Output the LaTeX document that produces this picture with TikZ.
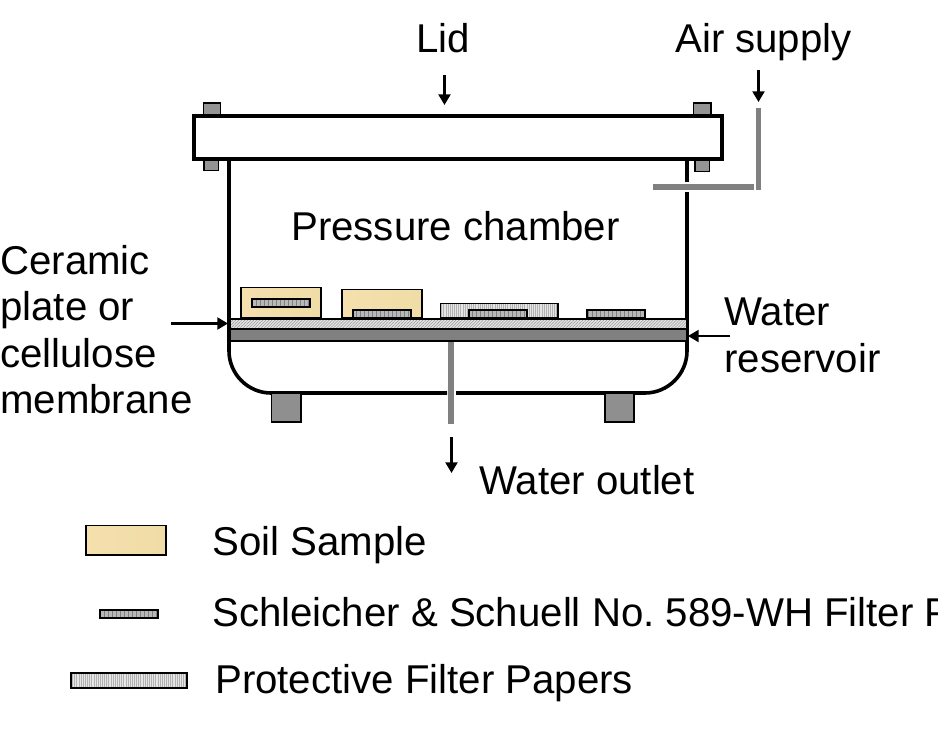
\documentclass[tikz,border=0pt]{standalone}
\usepackage{fontspec}
\setmainfont{Liberation Sans}
\usetikzlibrary{patterns.meta,arrows.meta,calc}
\newcommand\boxnode[6]{\node[#1,minimum width={(#5-#3)*0.75pt},minimum height={(#6-#4)*0.75pt}] (#2) at ({(#3+#5)/2},{(#4+#6)/2}) {};}
\tikzset{
  basebox/.style={draw=black,inner sep=0pt,outer sep=0pt,rectangle},
  lidbox/.style={basebox,line width=3pt,fill=white},
  bolt/.style={basebox,line width=1.1pt,fill=black!42},
  legbox/.style={basebox,line width=1.3pt,fill=black!44},
  soil/.style={basebox,line width=1.4pt,left color=soilA,right color=soilB},
  filterpaper/.style={basebox,line width=1.5pt,preaction={fill=black!28},pattern={Lines[angle=90,distance=3pt,line width=0.7pt]},pattern color=black!50},
  protective/.style={basebox,line width=1.4pt,preaction={fill=black!10},pattern={Lines[angle=90,distance=1.6pt,line width=0.5pt]},pattern color=black!30},
  plate/.style={draw=none,inner sep=0pt,outer sep=0pt,rectangle,preaction={fill=black!10},pattern={Lines[angle=45,distance=1.6pt,line width=0.4pt]},pattern color=black!40},
  reservoir/.style={draw=none,inner sep=0pt,outer sep=0pt,rectangle,fill=black!50},
  wall/.style={line width=2.7pt,draw=black},
  tube/.style={draw=black!50,line width=3.9pt},
  pointer/.style={line width=1.6pt,-{Triangle[length=8pt,width=9pt]}},
  label/.style={inner sep=0pt,anchor=base west,font=\fontsize{30.15pt}{30pt}\selectfont},
  labelc/.style={label,anchor=base},
}
\definecolor{soilA}{HTML}{F5E0AE}
\definecolor{soilB}{HTML}{F0DCA6}
\begin{document}
\begin{tikzpicture}[x=0.75pt,y=-0.75pt]
\frenchspacing
\useasboundingbox (0,0) rectangle (938,740);
% chamber walls
\draw[wall] (229,160) -- (229,351) .. controls (229,374) and (248,393) .. (271,393) -- (447,393);
\draw[wall] (456,393) -- (645,393) .. controls (668,393) and (687,374) .. (687,351) -- (687,192);
\draw[wall] (687,182) -- (687,160);
% bolts and lid
\boxnode{bolt}{boltTL}{203.5}{103}{220.5}{115}
\boxnode{bolt}{boltBL}{204}{159}{218.5}{170.5}
\boxnode{bolt}{boltTR}{693.5}{103}{711}{115}
\boxnode{bolt}{boltBR}{695}{159}{709.5}{171.5}
\boxnode{lidbox}{lid}{193.5}{115.5}{722}{159}
% plate and reservoir
\boxnode{plate}{ceramic}{231}{319}{686}{329}
\boxnode{reservoir}{water}{231}{329}{686}{341}
\draw[line width=1.3pt] (ceramic.north west) -- (ceramic.north east);
\draw[line width=1.1pt] (ceramic.south west) -- (ceramic.south east);
\draw[line width=2pt] (water.south west) -- (water.south east);
% samples
\boxnode{soil}{soilOne}{241}{287.5}{321}{318}
\boxnode{filterpaper}{filterOne}{251.5}{298.5}{310}{306.5}
\boxnode{soil}{soilTwo}{342}{289.5}{422}{318}
\boxnode{filterpaper}{filterTwo}{353}{310}{411}{318}
\boxnode{protective}{protOne}{440.5}{303.5}{558}{318}
\boxnode{filterpaper}{filterThree}{468.5}{310}{527}{318}
\boxnode{filterpaper}{filterFour}{586.5}{310}{645}{318}
% legs
\boxnode{legbox}{legL}{271.5}{393}{301}{422}
\boxnode{legbox}{legR}{605}{393}{634}{422}
% tubes
\coordinate (outTop) at (451,342);
\coordinate (outEnd) at (451,424);
\draw[tube] (outTop) -- (outEnd);
\coordinate (airTop) at (758.5,108);
\coordinate (airCorner) at (758.5,190);
\coordinate (airRight) at (754,187);
\coordinate (airLeft) at (653,187);
\draw[tube,line width=4.2pt] (airTop) -- (airCorner);
\draw[tube,line width=4.2pt] (airRight) -- (airLeft);
% labels
\node[labelc] (lidLabel) at (443,52) {Lid};
\node[label] (airLabel) at (675,52) {Air supply};
\node[label] (chamberLabel) at (291,240) {Pressure chamber};
\node[label] (ceramicA) at (0,274) {Ceramic};
\node[label] (ceramicB) at (0,320) {plate or};
\node[label] (ceramicC) at (0,367) {cellulose};
\node[label] (ceramicD) at (0,413) {membrane};
\node[label] (waterA) at (724,325) {Water};
\node[label] (waterB) at (724,372) {reservoir};
\node[label] (outletLabel) at (479,494) {Water outlet};
\node[label] (legendOne) at (212,555) {Soil Sample};
\node[label] (legendTwo) at (212,626) {Schleicher \& Schuell No. 589-WH Filter P};
\node[label] (legendThree) at (215,693) {Protective Filter Papers};
% arrows
\coordinate (lidFrom) at (444.5,75);
\coordinate (lidTo) at (444.5,105);
\draw[pointer] (lidFrom) -- (lidTo);
\coordinate (airFrom) at (758.5,70);
\coordinate (airTo) at (758.5,102);
\draw[pointer] (airFrom) -- (airTo);
\coordinate (ceramicFrom) at (171,323.5);
\coordinate (ceramicTo) at (228,323.5);
\draw[pointer] (ceramicFrom) -- (ceramicTo);
\coordinate (waterFrom) at (730,336);
\coordinate (waterTo) at (688,336);
\draw[pointer] (waterFrom) -- (waterTo);
\coordinate (outFrom) at (451.5,437);
\coordinate (outTo) at (451.5,473);
\draw[pointer] (outFrom) -- (outTo);
% legend swatches
\boxnode{soil}{keySoil}{86}{525.5}{166}{555}
\boxnode{filterpaper}{keyFilter}{100}{610}{158}{618}
\boxnode{protective}{keyProt}{71}{673}{187}{688}
\end{tikzpicture}
\end{document}
